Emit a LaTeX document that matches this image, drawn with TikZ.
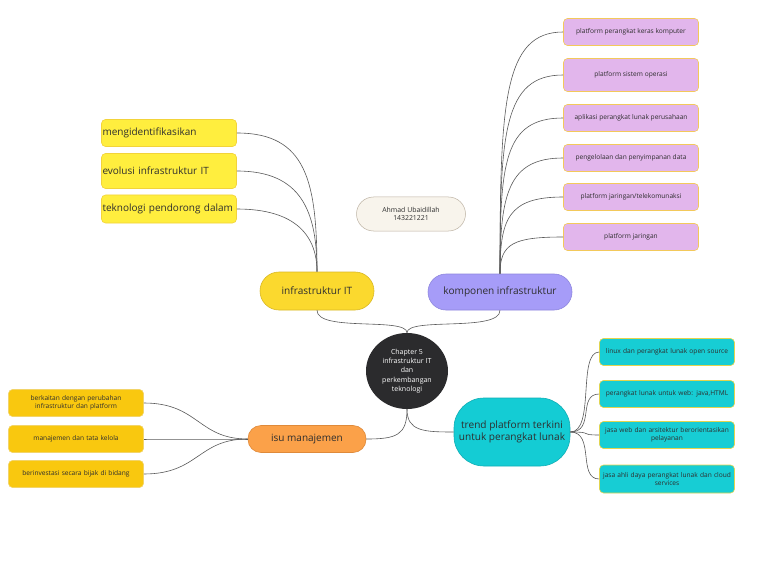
\documentclass[tikz,border=0pt]{standalone}
\usepackage{fontspec}
\setmainfont{Open Sans}
\usetikzlibrary{shapes.geometric}
\definecolor{txt}{HTML}{2E2E2E}
\definecolor{ln}{HTML}{5A5A5A}
\definecolor{yc}{HTML}{FFEE3E}\definecolor{ycb}{HTML}{F2D33A}
\definecolor{itc}{HTML}{FBD92E}\definecolor{itb}{HTML}{D9B825}
\definecolor{kpc}{HTML}{A69CF8}\definecolor{kpb}{HTML}{8E86DE}
\definecolor{pc}{HTML}{E2B6EC}\definecolor{pcb}{HTML}{F3C95A}
\definecolor{isc}{HTML}{FBA149}\definecolor{isb}{HTML}{DF8A3A}
\definecolor{oc}{HTML}{F9C80F}\definecolor{ocb}{HTML}{F2D469}
\definecolor{tc}{HTML}{14CCD4}\definecolor{tcb}{HTML}{10AEB5}
\definecolor{cc}{HTML}{17CDD4}\definecolor{ccb}{HTML}{E2D44E}
\definecolor{ctr}{HTML}{2B2B2D}
\definecolor{auc}{HTML}{F8F4EC}\definecolor{aub}{HTML}{BDB3A4}
\tikzset{
  conn/.style={draw=ln, line width=0.6pt},
  leafbox/.style={rectangle, rounded corners=4pt, line width=0.6pt, text=txt, minimum width=135pt, inner sep=1pt, align=center},
  ybox/.style={leafbox, fill=yc, draw=ycb, minimum height=27pt, font=\fontsize{10}{12}\selectfont, align=left, text width=133pt, inner sep=1pt},
  pbox/.style={leafbox, fill=pc, draw=pcb, minimum height=27pt, font=\fontsize{6.6}{8}\selectfont},
  cbox/.style={leafbox, fill=cc, draw=ccb, minimum height=27pt, font=\fontsize{6.6}{8.4}\selectfont, text width=133pt},
  obox/.style={leafbox, fill=oc, draw=ocb, minimum height=27pt, font=\fontsize{6.6}{8.4}\selectfont, text width=133pt},
  mainbox/.style={rectangle, rounded corners=16pt, line width=0.6pt, text=txt, font=\fontsize{10.1}{12.5}\selectfont, align=center, inner sep=1pt}
}
\begin{document}
\begin{tikzpicture}[x=1pt,y=-1pt]
\useasboundingbox (0,0) rectangle (768,572);
\fill[white] (0,0) rectangle (768,572);
% main nodes
\node[ellipse, fill=ctr, minimum width=82pt, minimum height=76pt, inner sep=0pt, text=white, align=center, font=\fontsize{7}{9.3}\selectfont] (ctr) at (407,371) {Chapter 5\\infrastruktur IT\\dan\\perkembangan\\teknologi};
\node[mainbox, fill=itc, draw=itb, minimum width=114pt, minimum height=38pt, rounded corners=19pt] (it) at (317,291) {infrastruktur IT};
\node[mainbox, fill=kpc, draw=kpb, minimum width=144pt, minimum height=36pt, rounded corners=18pt] (kp) at (500,292) {komponen infrastruktur};
\node[mainbox, fill=isc, draw=isb, minimum width=118pt, minimum height=27pt, rounded corners=13pt, font=\fontsize{10}{12}\selectfont] (isu) at (307,439) {isu manajemen};
\node[mainbox, fill=tc, draw=tcb, minimum width=116pt, minimum height=68pt, rounded corners=30pt] (tr) at (512,432) {trend platform terkini\\untuk perangkat lunak};
\node[rectangle, rounded corners=17pt, fill=auc, draw=aub, line width=0.5pt, minimum width=109pt, minimum height=34pt, align=center, text=txt, font=\fontsize{6.9}{8.6}\selectfont] (au) at (411,214) {Ahmad Ubaidillah\\143221221};
% yellow leaves
\node[ybox] (y1) at (169,133) {mengidentifikasikan};
\node[ybox, minimum height=35pt] (y2) at (169,171) {evolusi infrastruktur IT};
\node[ybox, minimum height=28pt] (y3) at (169,209) {teknologi pendorong dalam};
% purple leaves
\node[pbox] (p1) at (631,32) {platform perangkat keras komputer};
\node[pbox, minimum height=33pt] (p2) at (631,75) {platform sistem operasi};
\node[pbox] (p3) at (631,118) {aplikasi perangkat lunak perusahaan};
\node[pbox] (p4) at (631,158) {pengelolaan dan penyimpanan data};
\node[pbox] (p5) at (631,197) {platform jaringan/telekomunaksi};
\node[pbox] (p6) at (631,237) {platform jaringan};
% cyan leaves
\node[cbox] (c1) at (667,352) {linux dan perangkat lunak open source};
\node[cbox] (c2) at (667,394) {perangkat lunak untuk web: java,HTML};
\node[cbox] (c3) at (667,435) {jasa web dan arsitektur berorientasikan\\pelayanan};
\node[cbox, minimum height=28pt] (c4) at (667,479) {jasa ahli daya perangkat lunak dan cloud\\services};
% orange leaves
\node[obox] (o1) at (76,403) {berkaitan dengan perubahan\\infrastruktur dan platform};
\node[obox] (o2) at (76,439) {manajemen dan tata kelola};
\node[obox] (o3) at (76,474) {berinvestasi secara bijak di bidang};
% connectors center
\draw[conn] (it.south) .. controls +(0,22) and +(0,-16) .. (ctr.north);
\draw[conn] (kp.south) .. controls +(0,22) and +(0,-16) .. (ctr.north);
\draw[conn] (ctr.south) .. controls +(0,26) and +(30,0) .. (isu.east);
\draw[conn] (ctr.south) .. controls +(0,22) and +(-30,0) .. (tr.west);
% yellow connectors
\draw[conn] (y1.east) .. controls +(70,0) and +(0,-90) .. (it.north);
\draw[conn] (y2.east) .. controls +(65,0) and +(0,-60) .. (it.north);
\draw[conn] (y3.east) .. controls +(60,0) and +(0,-35) .. (it.north);
% purple connectors
\draw[conn] (p1.west) .. controls +(-60,0) and +(0,-170) .. (kp.north);
\draw[conn] (p2.west) .. controls +(-60,0) and +(0,-140) .. (kp.north);
\draw[conn] (p3.west) .. controls +(-60,0) and +(0,-110) .. (kp.north);
\draw[conn] (p4.west) .. controls +(-55,0) and +(0,-80) .. (kp.north);
\draw[conn] (p5.west) .. controls +(-55,0) and +(0,-55) .. (kp.north);
\draw[conn] (p6.west) .. controls +(-50,0) and +(0,-30) .. (kp.north);
% cyan connectors
\foreach \c in {c1,c2,c3,c4}
  \draw[conn] (tr.east) .. controls +(25,0) and +(-22,0) .. (\c.west);
% orange connectors
\foreach \o in {o1,o2,o3}
  \draw[conn] (\o.east) .. controls +(55,0) and +(-50,0) .. (isu.west);
\end{tikzpicture}
\end{document}
